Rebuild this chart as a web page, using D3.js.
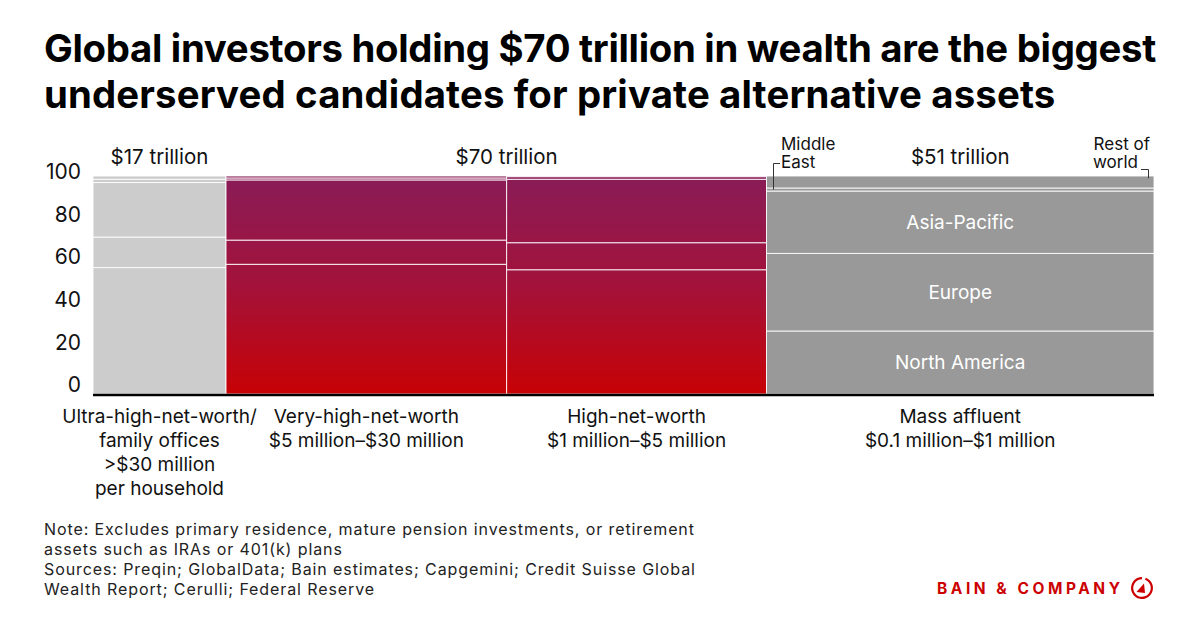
<!DOCTYPE html>
<html>
<head>
<meta charset="utf-8">
<script src="https://cdn.jsdelivr.net/npm/d3@7"></script>
<style>
  html, body { margin: 0; padding: 0; background: #fff; }
  svg { display: block; font-family: Inter, "Noto Sans", sans-serif; }
</style>
</head>
<body>
<svg id="chart" width="1200" height="627"></svg>
<script>
// ---- data ----
const titleLines = [
  "Global investors holding $70 trillion in wealth are the biggest",
  "underserved candidates for private alternative assets"
];
const categories = [
  ["Ultra-high-net-worth/", "family offices", ">$30 million", "per household"],
  ["Very-high-net-worth", "$5 million\u2013$30 million"],
  ["High-net-worth", "$1 million\u2013$5 million"],
  ["Mass affluent", "$0.1 million\u2013$1 million"]
];
// column widths (wealth, $ trillion)
const wealth = [17.3, 36.5, 33.8, 50.4];
const regions = ["North America", "Europe", "Asia-Pacific", "Middle East", "Rest of world"];
// share (%) of each region per category, bottom to top
const uhnwShares = [58, 14, 25, 1.5, 1.5];
const vhnwShares = [59.5, 11.1, 27.6, 0.9, 0.9];
const hnwShares  = [57, 12.4, 29.1, 1.2, 0.3];
const maShares   = [28.9, 35.6, 28.6, 1.4, 5.5];
const totalLabels = ["$17 trillion", "$70 trillion", "$51 trillion"];
const yTicks = [0, 20, 40, 60, 80, 100];
const notes = [
  "Note: Excludes primary residence, mature pension investments, or retirement",
  "assets such as IRAs or 401(k) plans",
  "Sources: Preqin; GlobalData; Bain estimates; Capgemini; Credit Suisse Global",
  "Wealth Report; Cerulli; Federal Reserve"
];

const shares = [uhnwShares, vhnwShares, hnwShares, maShares];
const fills = ["#cccccc", "url(#redGrad)", "url(#redGrad)", "#999999"];

const svg = d3.select("#chart");

// ---- scales ----
const total = d3.sum(wealth);
const x = d3.scaleLinear().domain([0, total]).range([93, 1154]);
const y = d3.scaleLinear().domain([0, 100]).range([394, 176]);
const yLab = d3.scaleLinear().domain([0, 100]).range([385, 172]);
const starts = wealth.map((w, i) => d3.sum(wealth.slice(0, i)));

// gradient
const defs = svg.append("defs");
const grad = defs.append("linearGradient").attr("id", "redGrad")
  .attr("gradientUnits", "userSpaceOnUse")
  .attr("x1", 0).attr("x2", 0).attr("y1", y(0)).attr("y2", y(100));
grad.append("stop").attr("offset", "0%").attr("stop-color", "#c70205");
grad.append("stop").attr("offset", "50%").attr("stop-color", "#a3123a");
grad.append("stop").attr("offset", "100%").attr("stop-color", "#891c57");

// ---- title ----
const title = svg.append("g");
titleLines.forEach((t, i) => {
  title.append("text").attr("x", 44).attr("y", 62 + i * 46)
    .attr("font-size", 36).attr("font-weight", 700).attr("fill", "#000")
    .attr("letter-spacing", -0.3)
    .text(t);
});
const l1 = title.select("text").node();
const w1 = l1.getComputedTextLength();
const fs = 36 * 1111 / w1;
title.selectAll("text").attr("font-size", fs);
title.selectAll("text").filter((d, i) => i === 1)
  .attr("textLength", 1011).attr("lengthAdjust", "spacing");

// ---- bars ----
const barsG = svg.append("g");
shares.forEach((arr, ci) => {
  let cum = 0;
  const segs = arr.map((v, ri) => { const s = { ci, ri, y0: cum, y1: cum + v }; cum += v; return s; });
  barsG.selectAll(null).data(segs).enter().append("rect")
    .attr("x", x(starts[ci]))
    .attr("width", x(starts[ci] + wealth[ci]) - x(starts[ci]))
    .attr("y", d => y(d.y1))
    .attr("height", d => y(d.y0) - y(d.y1))
    .attr("fill", fills[ci])
    .attr("stroke", "#fff")
    .attr("stroke-opacity", 0.85)
    .attr("stroke-width", 1);
});

// baseline
svg.append("line").attr("x1", x(0)).attr("x2", x(total))
  .attr("y1", y(0) + 1).attr("y2", y(0) + 1)
  .attr("stroke", "#000").attr("stroke-width", 2.5);

// y axis labels
const yAxis = d3.axisLeft(yLab).tickValues(yTicks).tickSize(0).tickPadding(0);
const ya = svg.append("g").attr("transform", "translate(81,0)").call(yAxis);
ya.select(".domain").remove();
ya.selectAll("text").attr("font-size", 21).attr("fill", "#111")
  .attr("font-family", "Inter, sans-serif");

// in-bar labels for mass affluent
{
  let cum = 0;
  const cx = x(starts[3] + wealth[3] / 2);
  maShares.forEach((v, ri) => {
    if (ri < 3) {
      svg.append("text").attr("x", cx).attr("y", y(cum + v / 2))
        .attr("dy", "0.35em").attr("text-anchor", "middle")
        .attr("font-size", 19).attr("fill", "#fff").text(regions[ri]);
    }
    cum += v;
  });
}

// total labels on top
const totalX = [
  x(starts[0] + wealth[0] / 2),
  x(starts[2]),
  x(starts[3] + wealth[3] / 2)
];
totalLabels.forEach((t, i) => {
  svg.append("text").attr("x", totalX[i]).attr("y", 164)
    .attr("text-anchor", "middle").attr("font-size", 20.5).attr("fill", "#111").text(t);
});

// Middle East / Rest of world callouts
const meY = y(100 - maShares[4] - maShares[3] / 2);
svg.append("text").attr("x", 781).attr("y", 149.5).attr("font-size", 17).attr("fill", "#111").text("Middle");
svg.append("text").attr("x", 781).attr("y", 168).attr("font-size", 17).attr("fill", "#111").text("East");
svg.append("path").attr("d", `M780,163.5 H773.5 V${meY}`)
  .attr("fill", "none").attr("stroke", "#333").attr("stroke-width", 1);
svg.append("text").attr("x", 1150).attr("y", 149.5).attr("text-anchor", "end").attr("font-size", 17).attr("fill", "#111").text("Rest of");
svg.append("text").attr("x", 1138).attr("y", 168).attr("text-anchor", "end").attr("font-size", 17).attr("fill", "#111").text("world");
svg.append("path").attr("d", `M1141,169.5 H1148.5 V${y(99)}`)
  .attr("fill", "none").attr("stroke", "#333").attr("stroke-width", 1);

// category labels
categories.forEach((lines, ci) => {
  const cx = x(starts[ci] + wealth[ci] / 2);
  lines.forEach((t, li) => {
    svg.append("text").attr("x", cx).attr("y", 423 + li * 24)
      .attr("text-anchor", "middle").attr("font-size", 19).attr("fill", "#111").text(t);
  });
});

// notes
notes.forEach((t, i) => {
  svg.append("text").attr("x", 44).attr("y", 535 + i * 20)
    .attr("font-size", 16).attr("letter-spacing", 0.9).attr("fill", "#222").text(t);
});

// Bain logo
svg.append("text").attr("x", 937).attr("y", 594)
  .attr("font-size", 15.5).attr("font-weight", 700).attr("fill", "#cc0000")
  .attr("textLength", 183).attr("lengthAdjust", "spacing")
  .text("BAIN & COMPANY");
const arc = d3.arc().innerRadius(8.8).outerRadius(11).startAngle(0.35).endAngle(2 * Math.PI);
svg.append("path").attr("d", arc()).attr("transform", "translate(1142,588)").attr("fill", "#cc0000");
svg.append("path").attr("d", "M1136.5,592 L1144,583.5 L1145,593 Z").attr("fill", "#cc0000");
</script>
</body>
</html>
